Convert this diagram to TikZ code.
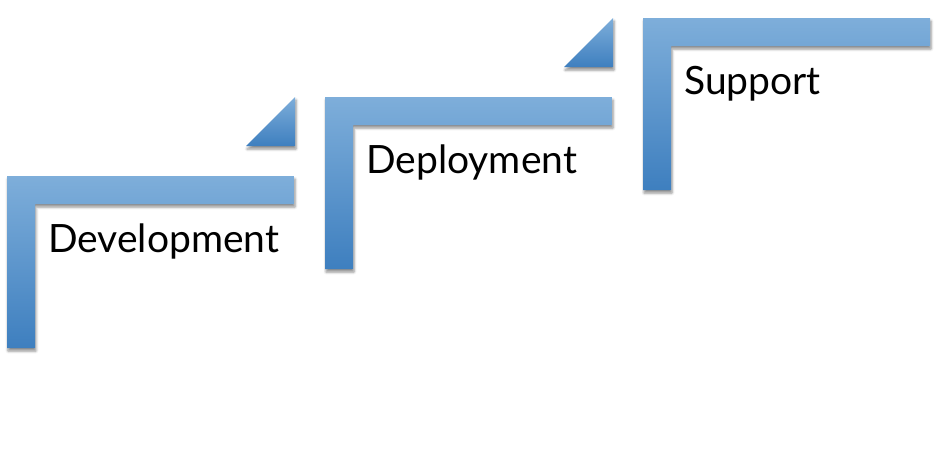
\documentclass[tikz,border=0pt]{standalone}
\usepackage{fontspec}
\setmainfont{Lato}
\usetikzlibrary{shadows.blur}
\definecolor{stepLight}{RGB}{126,174,218}
\definecolor{stepDark}{RGB}{62,127,191}
\tikzset{
  stepshape/.style={top color=stepLight, bottom color=stepDark,
    blur shadow={shadow xshift=1pt, shadow yshift=-3pt, shadow blur radius=2.5pt, shadow opacity=45}},
  steplabel/.style={anchor=base west, inner sep=0pt, font=\fontsize{39}{46}\selectfont}
}

\begin{document}
\begin{tikzpicture}[x=1pt,y=-1pt]
  \useasboundingbox (0,0) rectangle (937,450);
  \foreach \name/\x/\y/\txt in {dev/7/176/Development, dep/325/97/Deployment, sup/643/18/Support} {
    % L-shaped frame of one step
    \path[stepshape] (\x,\y) -- ++(287,0) -- ++(0,28) -- ++(-259,0) -- ++(0,144) -- ++(-28,0) -- cycle;
    \node[steplabel] (\name) at (\x+41,\y+76) {\txt};
  }
  % small corner triangles
  \foreach \x/\y in {325/97, 643/18} {
    \path[stepshape] (\x-79,\y+49) -- (\x-30,\y+49) -- (\x-30,\y) -- cycle;
  }
\end{tikzpicture}
\end{document}
